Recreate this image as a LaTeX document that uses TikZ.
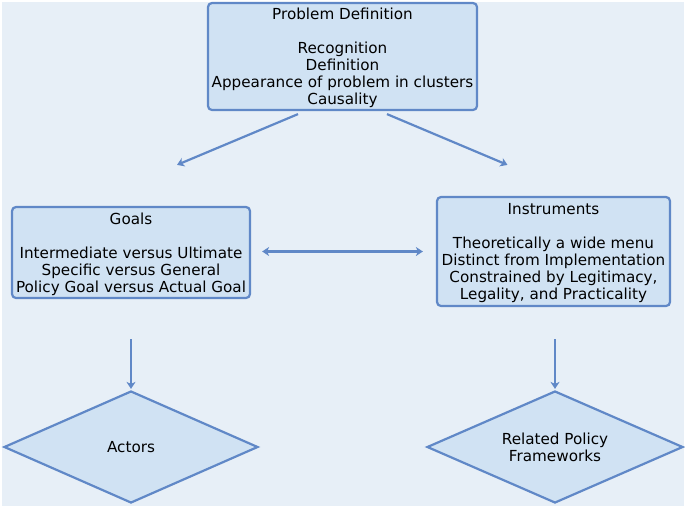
\documentclass[tikz,border=0pt]{standalone}
\usepackage{fontspec}
\setmainfont{DejaVu Sans}
\usetikzlibrary{arrows.meta,positioning,shapes.geometric,calc}
\definecolor{bgblue}{RGB}{231,239,247}
\definecolor{boxfill}{RGB}{208,226,243}
\definecolor{boxline}{RGB}{96,136,199}

\begin{document}
\begin{tikzpicture}[x=1pt,y=-1pt,
    box/.style={draw=boxline,line width=2.2pt,rounded corners=4pt,fill=boxfill,
      align=center,inner sep=0pt,text depth=0pt,font=\fontsize{15.2pt}{17pt}\selectfont},
    choice/.style={draw=boxline,line width=2.2pt,fill=boxfill,diamond,shape aspect=2.3,
      inner sep=0pt,align=center,font=\fontsize{15.2pt}{17pt}\selectfont},
    link/.style={draw=boxline,line width=2.2pt,-{Stealth[length=7pt,width=9pt,inset=2pt]}}]
    \useasboundingbox (0,0) rectangle (685,507);
    \fill[white] (0,0) rectangle (685,507);
    \fill[bgblue] (1.5,1.5) rectangle (683.5,505.5);
    \node[box,minimum width=269pt,minimum height=107pt] (pd) at (342.5,56.5)
      {Problem Definition\\[17pt]Recognition\\Definition\\Appearance of problem in clusters\\Causality};
    \node[box,minimum width=238pt,minimum height=91pt] (goals) at (131,252.5)
      {Goals\\[17pt]Intermediate versus Ultimate\\Specific versus General\\Policy Goal versus Actual Goal};
    \node[box,minimum width=233pt,minimum height=109pt] (instr) at (553.5,251.5)
      {Instruments\\[17pt]Theoretically a wide menu\\Distinct from Implementation\\Constrained by Legitimacy,\\Legality, and Practicality};
    \node[choice,minimum width=254pt,minimum height=112pt] (actors) at (131,447) {Actors};
    \node[choice,minimum width=256pt,minimum height=112pt] (rpf) at (555,447) {Related Policy\\Frameworks};
    % arrows out of the problem definition
    \coordinate (pdl) at ([xshift=-44.5pt,yshift=-3pt]pd.south);
    \coordinate (pdr) at ([xshift=44.5pt,yshift=-3pt]pd.south);
    \coordinate (goalsin) at ($(goals.north)+(46,-41)$);
    \coordinate (instrin) at ($(instr.north)+(-46,-31)$);
    \draw[link] (pdl) -- (goalsin);
    \draw[link] (pdr) -- (instrin);
    \draw[link,{Stealth[length=7pt,width=9pt,inset=2pt]}-{Stealth[length=7pt,width=9pt,inset=2pt]},
      shorten <=11pt,shorten >=13pt] (goals.east |- instr.west) -- (instr.west);
    \draw[link,shorten <=40pt,shorten >=1pt] (goals.south) -- (actors.north);
    \draw[link,shorten <=32pt,shorten >=1pt] (instr.south -| rpf.north) -- (rpf.north);
  \end{tikzpicture}
\end{document}
